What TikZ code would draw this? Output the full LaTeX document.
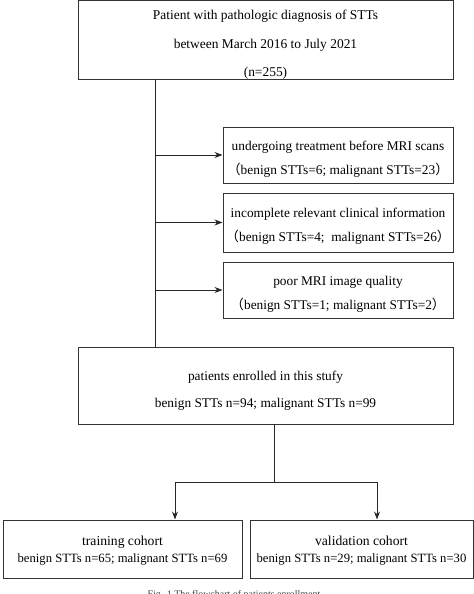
\documentclass[tikz,border=0pt]{standalone}
\usepackage{fontspec}
\setmainfont{Liberation Serif}
\newfontfamily\cjk{Noto Sans CJK SC}
\usetikzlibrary{arrows.meta}
\begin{document}
\begin{tikzpicture}[x=1bp,y=-1bp,
  box/.style={draw=black!80,line width=1pt,rectangle,inner sep=0pt,anchor=center},
  txt/.style={align=center,inner sep=0pt,anchor=center},
  conn/.style={draw=black!85,line width=0.9pt},
  arr/.style={conn,-{Stealth[length=8pt,width=6pt]}}]
\useasboundingbox (0,0) rectangle (474,594);
% boxes
\node[box,minimum width=375bp,minimum height=78bp] (top) at (265.5,40) {};
\node[box,minimum width=230bp,minimum height=56bp] (b1) at (338,155) {};
\node[box,minimum width=230bp,minimum height=59bp] (b2) at (338,222.5) {};
\node[box,minimum width=230bp,minimum height=56bp] (b3) at (338,290) {};
\node[box,minimum width=375bp,minimum height=77bp] (main) at (265.5,385.5) {};
\node[box,minimum width=239bp,minimum height=58bp] (train) at (122.5,549) {};
\node[box,minimum width=223bp,minimum height=58bp] (valid) at (361.5,549) {};
% texts
\node[txt,font=\fontsize{13.5}{28.5}\selectfont] (top-t) at ([yshift=-5bp]top.center)
  {Patient with pathologic diagnosis of STTs\\between March 2016 to July 2021\\(n=255)};
\node[txt,font=\fontsize{13.4}{24}\selectfont] (b1-t) at ([yshift=-4bp]b1.center)
  {undergoing treatment before MRI scans\\{\cjk（}benign STTs=6; malignant STTs=23{\cjk）}};
\node[txt,font=\fontsize{13.4}{24}\selectfont] (b2-t) at ([yshift=-4bp]b2.center)
  {incomplete relevant clinical information\\{\cjk（}benign STTs=4;\ \ malignant STTs=26{\cjk）}};
\node[txt,font=\fontsize{13.4}{24}\selectfont] (b3-t) at ([yshift=-4bp]b3.center)
  {poor MRI image quality\\{\cjk（}benign STTs=1; malignant STTs=2{\cjk）}};
\node[txt,font=\fontsize{13.4}{27}\selectfont] (main-t) at ([yshift=-5bp]main.center)
  {patients enrolled in this stufy\\benign STTs n=94; malignant STTs n=99};
\node[txt,font=\fontsize{12.7}{17}\selectfont] (train-t) at ([yshift=-2bp]train.center)
  {{\fontsize{13.7}{17}\selectfont training cohort}\\benign STTs n=65; malignant STTs n=69};
\node[txt,font=\fontsize{12.7}{17}\selectfont] (valid-t) at ([yshift=-2bp]valid.center)
  {{\fontsize{13.7}{17}\selectfont validation cohort}\\benign STTs n=29; malignant STTs n=30};
\node[font=\fontsize{10}{11}\selectfont,text=black!75,anchor=base,inner sep=0pt] (cap) at (234,597) {Fig. 1 The flowchart of patients enrollment};
% spine
\coordinate (s0) at (155,79);
\coordinate (s4) at (155,347);
\draw[conn] (s0) -- (s4);
\draw[arr] (s0 |- b1.west) -- (b1.west);
\draw[arr] (s0 |- b2.west) -- (b2.west);
\draw[arr] (s0 |- b3.west) -- (b3.west);
% split
\coordinate (m0) at (274,424);
\coordinate (m1) at (274,482);
\coordinate (l1) at (175,482);
\coordinate (r1) at (377,482);
\draw[conn] (m0) -- (m1);
\draw[conn] (l1) -- (r1);
\draw[arr] (l1) -- (l1 |- train.north);
\draw[arr] (r1) -- (r1 |- valid.north);
\end{tikzpicture}
\end{document}
